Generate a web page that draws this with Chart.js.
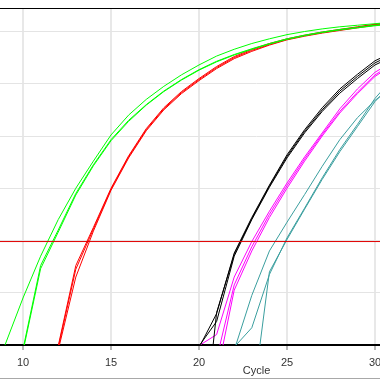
<!DOCTYPE html>
<html>
<head>
<meta charset="utf-8">
<script src="https://cdn.jsdelivr.net/npm/chart.js@4/dist/chart.umd.min.js"></script>
<style>
  html, body { margin: 0; padding: 0; background: #fff; }
  #wrap { width: 380px; height: 378px; overflow: hidden; border-bottom: 1px solid #a8a8a8; position: relative; }
  canvas { display: block; }
</style>
</head>
<body>
<div id="wrap"><canvas id="c" width="513" height="378"></canvas></div>
<script>
// ---- data (x = cycle, y = fluorescence in gridline steps)
const CYCLES = [8, 9, 10, 11, 12, 13, 14, 15, 16, 17, 18, 19, 20, 21, 22, 23, 24, 25, 26, 27, 28, 29, 30, 31];
const X_TICKS = [10, 15, 20, 25, 30, 35];
const X_TITLE = 'Cycle';
const THRESHOLD = 1.98;
const X_MIN = 8.693;
const X_MAX = 37.84;
const Y_MIN = 0;
const Y_MAX = 6.45;

const GREEN_1 = [-1.0, 0.02, 0.9, 1.7, 2.4, 3.0, 3.52, 4.02, 4.4, 4.7, 4.95, 5.17, 5.36, 5.53, 5.66, 5.77, 5.86, 5.94, 6.0, 6.05, 6.09, 6.12, 6.15, 6.18];
const GREEN_2 = [null, null, -0.08, 1.52, 2.2, 2.9, 3.45, 3.93, 4.3, 4.6, 4.86, 5.08, 5.27, 5.43, 5.56, 5.67, 5.77, 5.86, 5.93, 5.99, 6.04, 6.08, 6.12, 6.15];
const GREEN_3 = [null, null, -0.12, 1.46, 2.16, 2.87, 3.43, 3.91, 4.28, 4.59, 4.85, 5.07, 5.26, 5.42, 5.55, 5.66, 5.76, 5.85, 5.92, 5.98, 6.03, 6.07, 6.11, 6.14];

const RED_1 = [null, null, null, null, -0.05, 1.45, 2.22, 2.98, 3.6, 4.12, 4.52, 4.83, 5.08, 5.31, 5.5, 5.64, 5.75, 5.85, 5.92, 5.98, 6.03, 6.08, 6.13, 6.17];
const RED_2 = [null, null, null, null, -0.1, 1.3, 2.18, 2.96, 3.58, 4.1, 4.5, 4.81, 5.06, 5.29, 5.48, 5.62, 5.74, 5.84, 5.91, 5.97, 6.02, 6.07, 6.12, 6.16];
const RED_3 = [null, null, null, null, -0.02, 1.52, 2.25, 3.0, 3.62, 4.14, 4.54, 4.85, 5.1, 5.33, 5.52, 5.66, 5.77, 5.86, 5.93, 5.99, 6.04, 6.09, 6.14, 6.18];

const BLACK_1 = [null, null, null, null, null, null, null, null, null, null, null, null, -0.05, 0.6, 1.76, 2.44, 3.06, 3.64, 4.12, 4.54, 4.9, 5.18, 5.44, 5.6];
const BLACK_2 = [null, null, null, null, null, null, null, null, null, null, null, null, -0.02, 0.45, 1.7, 2.4, 3.02, 3.58, 4.06, 4.47, 4.82, 5.1, 5.36, 5.52];
const BLACK_3 = [null, null, null, null, null, null, null, null, null, null, null, null, -2.5, 0.62, 1.73, 2.42, 3.04, 3.61, 4.09, 4.5, 4.86, 5.14, 5.4, 5.56];

const MAGENTA_1 = [null, null, null, null, null, null, null, null, null, null, null, null, -0.013, 0.2, 1.3, 1.98, 2.56, 3.1, 3.6, 4.06, 4.52, 4.9, 5.22, 5.42];
const MAGENTA_2 = [null, null, null, null, null, null, null, null, null, null, null, null, null, -0.27, 1.15, 1.88, 2.5, 3.05, 3.56, 4.03, 4.47, 4.84, 5.17, 5.38];
const MAGENTA_3 = [null, null, null, null, null, null, null, null, null, null, null, null, null, -0.6, 1.05, 1.8, 2.44, 3.0, 3.52, 4.0, 4.44, 4.81, 5.14, 5.36];

const TEAL_1 = [null, null, null, null, null, null, null, null, null, null, null, null, null, null, -0.04, 0.33, 1.35, 2.05, 2.62, 3.2, 3.74, 4.22, 4.72, 5.1];
const TEAL_2 = [null, null, null, null, null, null, null, null, null, null, null, null, null, null, -0.1, 0.95, 1.8, 2.35, 2.88, 3.42, 3.93, 4.35, 4.68, 4.95];
const TEAL_3 = [null, null, null, null, null, null, null, null, null, null, null, null, null, null, null, -1.2, 1.4, 2.02, 2.6, 3.17, 3.7, 4.18, 4.66, 5.0];

const SERIES = [
  { data: GREEN_1, color: '#00ff00' },
  { data: GREEN_2, color: '#00ff00' },
  { data: GREEN_3, color: '#00ff00' },
  { data: RED_1, color: '#ff0000' },
  { data: RED_2, color: '#ff0000' },
  { data: RED_3, color: '#ff0000' },
  { data: BLACK_1, color: '#000000' },
  { data: BLACK_2, color: '#000000' },
  { data: BLACK_3, color: '#000000' },
  { data: MAGENTA_1, color: '#ff00ff' },
  { data: MAGENTA_2, color: '#ff00ff' },
  { data: MAGENTA_3, color: '#ff00ff' },
  { data: TEAL_1, color: '#3a9e9e' },
  { data: TEAL_2, color: '#3a9e9e' },
  { data: TEAL_3, color: '#3a9e9e' }
];

Chart.defaults.font.family = '"Liberation Sans", Arial, sans-serif';
Chart.defaults.font.size = 11;

const datasets = [{
  data: [{ x: X_MIN, y: THRESHOLD }, { x: X_MAX, y: THRESHOLD }],
  borderColor: '#e00000',
  borderWidth: 1,
  pointRadius: 0,
  xAxisID: 'x',
  yAxisID: 'y'
}].concat(SERIES.map(s => ({
  data: CYCLES.map((c, i) => ({ x: c, y: s.data[i] })),
  borderColor: s.color,
  borderWidth: 1,
  pointRadius: 0,
  tension: 0,
  spanGaps: false,
  xAxisID: 'x',
  yAxisID: 'y'
})));

new Chart(document.getElementById('c'), {
  type: 'line',
  data: { datasets },
  options: {
    responsive: false,
    animation: false,
    devicePixelRatio: 1,
    layout: { padding: { top: 8, left: 0, right: 0, bottom: 0 } },
    plugins: { legend: { display: false }, tooltip: { enabled: false } },
    scales: {
      x: {
        type: 'linear',
        position: 'bottom',
        min: X_MIN,
        max: X_MAX,
        afterBuildTicks: (axis) => { axis.ticks = X_TICKS.map(v => ({ value: v })); },
        afterFit: (axis) => { axis.height = 33; },
        ticks: { includeBounds: false, color: '#333', padding: 6, font: { size: 11 } },
        grid: { color: '#e8e8e8', lineWidth: 2, tickLength: 5, tickColor: '#a0a0a0', tickWidth: 1.5 },
        border: { display: true, color: '#000', width: 2 },
        title: { display: true, text: X_TITLE, color: '#333', font: { size: 11 }, padding: { top: 0, bottom: 0 } }
      },
      xTop: {
        type: 'linear',
        position: 'top',
        display: true,
        min: X_MIN,
        max: X_MAX,
        ticks: { display: false },
        grid: { display: false, drawTicks: false },
        border: { display: true, color: '#000', width: 1 }
      },
      y: {
        type: 'linear',
        min: Y_MIN,
        max: Y_MAX,
        ticks: { display: false, stepSize: 1, includeBounds: false },
        grid: { color: '#e4e4e4', lineWidth: 1, drawTicks: false },
        border: { display: false }
      }
    }
  }
});
</script>
</body>
</html>
